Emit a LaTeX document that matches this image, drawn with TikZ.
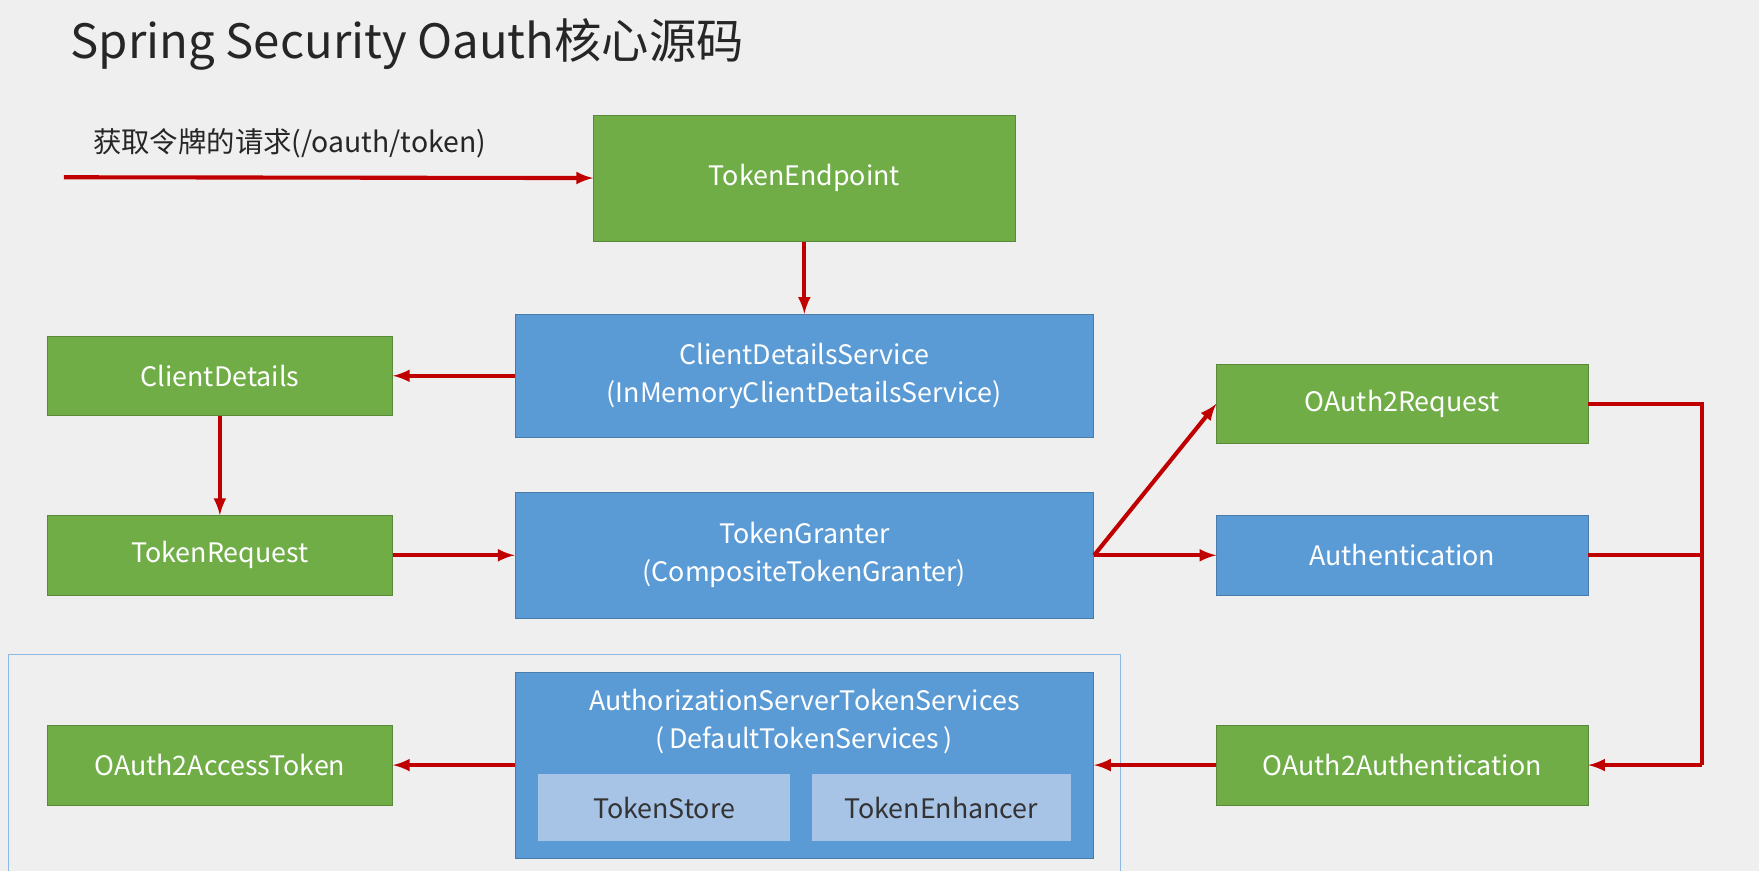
\documentclass[tikz,border=0pt]{standalone}
\usepackage{fontspec}
\setmainfont{Noto Sans CJK SC}
\usetikzlibrary{arrows}
\definecolor{boxgreen}{HTML}{70AD47}
\definecolor{boxblue}{HTML}{5B9BD5}
\definecolor{innerblue}{HTML}{A7C3E6}
\definecolor{flowred}{HTML}{C00000}
\definecolor{bggray}{HTML}{EEEFEE}
\begin{document}
\begin{tikzpicture}[x=0.025cm,y=-0.025cm]

	\tikzstyle{green_node}=[rectangle, fill=boxgreen, draw=boxgreen!80!black, text=white, font=\fontsize{17}{24}\selectfont, inner sep=0pt]
	\tikzstyle{blue_node}=[rectangle, fill=boxblue, draw=boxblue!80!black, text=white, font=\fontsize{17}{24}\selectfont, inner sep=0pt, align=center]
	\tikzstyle{inner_node}=[rectangle, fill=innerblue, text=black!80, font=\fontsize{17}{24}\selectfont, inner sep=0pt]
	\tikzstyle{flow_arrow}=[-latex, draw=flowred, line width=2.6pt]
	\tikzstyle{flow_line}=[draw=flowred, line width=2.6pt]

	\fill[bggray] (0,0) rectangle (1568,776);
	\useasboundingbox (0,0) rectangle (1568,776);

	\node[anchor=west, font=\fontsize{30}{36}\selectfont, text=black!85] (title) at (58,40) {Spring Security Oauth核心源码};
	\node[anchor=west, font=\fontsize{18}{24}\selectfont, text=black!85] (request_label) at (78,128) {获取令牌的请求(/oauth/token)};
	\coordinate (request_start) at (57,158);

	\node[green_node, minimum width=376*0.025cm, minimum height=112*0.025cm] at (717,159) (token_endpoint) {TokenEndpoint};
	\node[blue_node, minimum width=516*0.025cm, minimum height=110*0.025cm] at (717,335) (client_details_service) {ClientDetailsService\\(InMemoryClientDetailsService)};
	\node[green_node, minimum width=308*0.025cm, minimum height=71*0.025cm] at (196,335) (client_details) {ClientDetails};
	\node[green_node, minimum width=308*0.025cm, minimum height=71*0.025cm] at (196,495) (token_request) {TokenRequest};
	\node[blue_node, minimum width=516*0.025cm, minimum height=112*0.025cm] at (717,495) (token_granter) {TokenGranter\\(CompositeTokenGranter)};
	\node[green_node, minimum width=331*0.025cm, minimum height=71*0.025cm] at (1250,360) (oauth2_request) {OAuth2Request};
	\node[blue_node, minimum width=331*0.025cm, minimum height=71*0.025cm] at (1250,495) (authentication) {Authentication};
	\node[green_node, minimum width=331*0.025cm, minimum height=71*0.025cm] at (1250,682) (oauth2_authentication) {OAuth2Authentication};

	\draw[draw=boxblue!70] (7,583) rectangle (999,780);
	\node[blue_node, minimum width=516*0.025cm, minimum height=166*0.025cm] at (717,682) (token_services) {};
	\node[text=white, font=\fontsize{17}{24}\selectfont, align=center] at (717,643) (token_services_text) {AuthorizationServerTokenServices\\(\,DefaultTokenServices\,)};
	\node[inner_node, minimum width=225*0.025cm, minimum height=60*0.025cm] at (592,720) (token_store) {TokenStore};
	\node[inner_node, minimum width=231*0.025cm, minimum height=60*0.025cm] at (839,720) (token_enhancer) {TokenEnhancer};
	\node[green_node, minimum width=308*0.025cm, minimum height=71*0.025cm] at (196,682) (access_token) {OAuth2AccessToken};

	\coordinate (right_rail_top) at (1517,360);
	\coordinate (right_rail_mid) at (1517,495);
	\coordinate (right_rail_bottom) at (1517,682);

	\draw[flow_arrow] (request_start) -- (token_endpoint);
	\draw[flow_arrow] (token_endpoint) -- (client_details_service);
	\draw[flow_arrow] (client_details_service) -- (client_details);
	\draw[flow_arrow] (client_details) -- (token_request);
	\draw[flow_arrow] (token_request) -- (token_granter);
	\draw[flow_arrow] (token_granter.east) -- (oauth2_request.west);
	\draw[flow_arrow] (token_granter) -- (authentication);
	\draw[flow_line] (oauth2_request) -- (right_rail_top) -- (right_rail_bottom);
	\draw[flow_line] (authentication) -- (right_rail_mid);
	\draw[flow_arrow] (right_rail_bottom) -- (oauth2_authentication);
	\draw[flow_arrow] (oauth2_authentication) -- (token_services);
	\draw[flow_arrow] (token_services) -- (access_token);
	\end{tikzpicture}
\end{document}
